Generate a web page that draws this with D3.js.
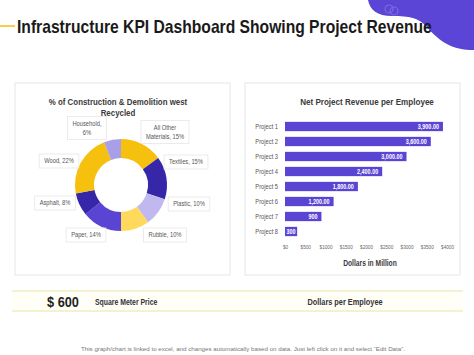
<!DOCTYPE html>
<html><head><meta charset="utf-8">
<script src="https://cdn.jsdelivr.net/npm/d3@7"></script>
<style>
html,body{margin:0;padding:0;background:#fff;}
svg{display:block;}
text{font-family:"Liberation Sans",Arial,sans-serif;}
</style></head><body>
<script>
// ---------- DATA ----------
const materials = ["All Other Materials","Textiles","Plastic","Rubble","Paper","Asphalt","Wood","Household"];
const materialShare = [15,15,10,10,14,8,22,6];
const materialLabels = [["All Other","Materials, 15%"],["Textiles, 15%"],["Plastic, 10%"],["Rubble,  10%"],["Paper, 14%"],["Asphalt, 8%"],["Wood, 22%"],["Household,","6%"]];
const materialColors = ["#F5C00E","#3626A8","#C0B8EF","#FFD95C","#5A44D4","#3626A8","#F5C00E","#A99FE8"];

const projects = ["Project 1","Project 2","Project 3","Project 4","Project 5","Project 6","Project 7","Project 8"];
const revenue = [3900,3600,3000,2400,1800,1200,900,300];
const revenueLabels = ["3,900.00","3,600.00","3,000.00","2,400.00","1,800.00","1,200.00","900","300"];
const revenueTicks = [0,500,1000,1500,2000,2500,3000,3500,4000];

const kpiValue = "$ 600";
const kpiLabel = "Square Meter Price";
const kpiRight = "Dollars per Employee";

// label box centres (layout)
const labelPos = [[165,132],[186,162],[189,204],[165,235],[86,235],[55,203],[59,161],[87,128]];

// condense helper (imitates a narrow font)
function condense(sel,f){
  sel.each(function(){
    const l=this.getComputedTextLength();
    d3.select(this).attr("textLength",l*f).attr("lengthAdjust","spacingAndGlyphs");
  });
  return sel;
}

// ---------- SVG ----------
const W=474,H=355;
const svg=d3.select("body").append("svg").attr("width",W).attr("height",H);

// purple blob top right
svg.append("path")
  .attr("d","M368,0 C370,10 377,16 392,16 C410,16 418,18 426,26 C440,42 452,50 474,50 L474,0 Z")
  .attr("fill","#5B45D6");
const rings=svg.append("g").attr("fill","none").attr("stroke","#7C6AE0").attr("stroke-width",1.2);
rings.append("circle").attr("cx",389).attr("cy",9).attr("r",4);
rings.append("circle").attr("cx",394).attr("cy",11).attr("r",4);

// title (horizontally scaled to imitate a condensed face)
svg.append("line").attr("x1",0).attr("x2",15).attr("y1",26).attr("y2",26)
  .attr("stroke","#F5C00E").attr("stroke-width",1.5);
const tg=svg.append("g");
const tt=tg.append("text").attr("x",0).attr("y",0)
  .attr("font-size",17.5).attr("font-weight","bold").attr("fill","#1a1a1a")
  .text("Infrastructure KPI Dashboard Showing Project Revenue");
const tl=tt.node().getComputedTextLength();
tg.attr("transform",`translate(17,32.5) scale(${415/tl},1)`);

// panels
[[15,83],[245,83]].forEach(([x,y])=>{
  svg.append("rect").attr("x",x).attr("y",y).attr("width",215).attr("height",192)
    .attr("fill","#fff").attr("stroke","#e6e6e6").attr("stroke-width",1);
});

// ---------- DONUT ----------
const cx=121,cy=185;
condense(svg.append("text").attr("x",118).attr("y",105).attr("text-anchor","middle")
  .attr("font-size",9.5).attr("font-weight","bold").attr("fill","#3a3a3a")
  .text("% of Construction & Demolition west"),0.83);
condense(svg.append("text").attr("x",118).attr("y",116).attr("text-anchor","middle")
  .attr("font-size",9.5).attr("font-weight","bold").attr("fill","#3a3a3a")
  .text("Recycled"),0.83);

const pie=d3.pie().sort(null).value(d=>d)(materialShare);
const arc=d3.arc().innerRadius(27).outerRadius(46);
const dg=svg.append("g").attr("transform",`translate(${cx},${cy})`);
dg.selectAll("path").data(pie).join("path")
  .attr("d",arc).attr("fill",(d,i)=>materialColors[i]);

pie.forEach((d,i)=>{
  const [px,py]=labelPos[i];
  const lines=materialLabels[i];
  const g=svg.append("g");
  const tmp=g.selectAll("text").data(lines).join("text")
    .attr("x",px).attr("y",(t,j)=>py+(j-(lines.length-1)/2)*9+2.4)
    .attr("text-anchor","middle").attr("font-size",7.2).attr("fill","#555").text(t=>t);
  condense(tmp,0.8);
  let bw=0; tmp.each(function(){bw=Math.max(bw,+d3.select(this).attr("textLength"));});
  bw+=10; const bh=lines.length*9+5;
  g.insert("rect","text").attr("x",px-bw/2).attr("y",py-bh/2)
    .attr("width",bw).attr("height",bh).attr("fill","#fff")
    .attr("stroke","#e6e6e6").attr("stroke-width",0.8);
});

// ---------- BAR CHART ----------
condense(svg.append("text").attr("x",367).attr("y",105).attr("text-anchor","middle")
  .attr("font-size",9.5).attr("font-weight","bold").attr("fill","#3a3a3a")
  .text("Net Project Revenue per Employee"),0.85);

const x=d3.scaleLinear().domain([0,4000]).range([285,447]);
const y=d3.scaleBand().domain(projects).range([119,239]).paddingInner(0.38).paddingOuter(0.19);

const bars=svg.append("g");
bars.selectAll("rect").data(revenue).join("rect")
  .attr("x",x(0)).attr("y",(d,i)=>y(projects[i]))
  .attr("width",d=>x(d)-x(0)).attr("height",y.bandwidth()).attr("fill","#5A44D4");
condense(bars.selectAll("text.v").data(revenue).join("text").attr("class","v")
  .attr("x",(d,i)=>i===7? x(0)+1.5 : x(d)-4)
  .attr("y",(d,i)=>y(projects[i])+y.bandwidth()/2+2.2)
  .attr("text-anchor",(d,i)=>i===7?"start":"end")
  .attr("font-size",6.4).attr("font-weight","bold").attr("fill","#fff")
  .text((d,i)=>revenueLabels[i]),0.85);

const yAxis=svg.append("g").attr("transform",`translate(${x(0)},0)`)
  .call(d3.axisLeft(y).tickSize(0).tickPadding(7));
yAxis.select(".domain").remove();
condense(yAxis.selectAll("text").attr("font-size",7).attr("fill","#555")
  .style("font-family",'"Liberation Sans",Arial,sans-serif'),0.82);

const xAxis=svg.append("g").attr("transform","translate(0,242)")
  .call(d3.axisBottom(x).tickValues(revenueTicks).tickSize(0).tickPadding(3).tickFormat(d=>"$"+d));
xAxis.select(".domain").remove();
condense(xAxis.selectAll("text").attr("font-size",5.8).attr("fill","#666")
  .style("font-family",'"Liberation Sans",Arial,sans-serif'),0.8);

condense(svg.append("text").attr("x",370).attr("y",266).attr("text-anchor","middle")
  .attr("font-size",8.6).attr("font-weight","bold").attr("fill","#3a3a3a")
  .text("Dollars in Million"),0.78);

// ---------- KPI BAND ----------
svg.append("rect").attr("x",12).attr("y",291).attr("width",451).attr("height",20).attr("fill","#FFFFF7");
[291,311].forEach(yy=>svg.append("line").attr("x1",12).attr("x2",463).attr("y1",yy).attr("y2",yy)
  .attr("stroke","#E6E6A8").attr("stroke-width",1));
condense(svg.append("text").attr("x",47).attr("y",307).attr("font-size",15).attr("font-weight","bold")
  .attr("fill","#222").text(kpiValue),0.85);
condense(svg.append("text").attr("x",95).attr("y",305).attr("font-size",8.6).attr("font-weight","bold")
  .attr("fill","#333").text(kpiLabel),0.8);
condense(svg.append("text").attr("x",345).attr("y",304.5).attr("text-anchor","middle").attr("font-size",9.2).attr("font-weight","bold")
  .attr("fill","#333").text(kpiRight),0.8);

// footer
condense(svg.append("text").attr("x",243).attr("y",351).attr("text-anchor","middle")
  .attr("font-size",6).attr("fill","#777")
  .text("This graph/chart is linked to excel, and changes automatically based on data. Just left click on it and select \u201cEdit Data\u201d."),1.03);
</script>
</body></html>
